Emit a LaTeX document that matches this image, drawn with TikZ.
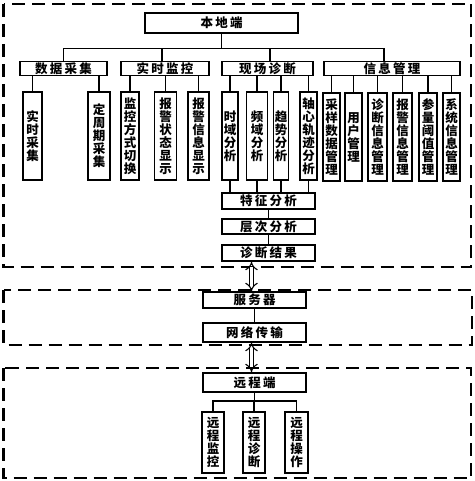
\documentclass[tikz,border=0pt]{standalone}
\usepackage{fontspec}
\usepackage{tikz}
\usetikzlibrary{arrows.meta, positioning}
\setmainfont{Noto Sans CJK SC}
\newfontfamily\hfont{Noto Sans CJK SC}[LetterSpace=18]
\newfontfamily\vfont{Noto Sans CJK SC}

\tikzset{
  box/.style={draw, line width=1.6pt, inner sep=0pt, font=\hfont\bfseries\fontsize{12.5}{14}\selectfont},
  vbox/.style={box, align=center, minimum height=88pt, font=\vfont\bfseries\fontsize{12.5}{13}\selectfont},
  rbox/.style={vbox, minimum height=61pt},
  frame/.style={line width=2.4pt, dash pattern=on 13pt off 7pt},
  link/.style={line width=1.4pt},
  dblarrow/.style={line width=1.1pt, double distance=3.2pt, {Implies}-{Implies}}
}

\begin{document}
\begin{tikzpicture}[x=1pt, y=-1pt]
    \useasboundingbox (0,0) rectangle (474,481);
    % dashed areas
    \draw[frame] (3.5,4) rectangle (471,267);
    \draw[frame] (3.5,290) rectangle (472,345);
    \draw[frame] (3.5,368) rectangle (471,478);

    % local side
    \node[box, minimum width=153pt, minimum height=20pt] (local) at (221.5,23) {本地端};
    \node[box, minimum width=87pt, minimum height=14pt] (acq) at (63.5,68.5) {数据采集};
    \node[box, minimum width=88pt, minimum height=14pt] (mon) at (165,68.5) {实时监控};
    \node[box, minimum width=91pt, minimum height=14pt] (diag) at (267.5,68.5) {现场诊断};
    \node[box, minimum width=136pt, minimum height=14pt] (info) at (392,68.5) {信息管理};

    \node[vbox, minimum width=19pt] (a1) at (32.5,136) {实\\时\\采\\集};
    \node[vbox, minimum width=22pt] (a2) at (99,136) {定\\周\\期\\采\\集};
    \node[vbox, minimum width=18pt] (m1) at (130,136) {监\\控\\方\\式\\切\\换};
    \node[vbox, minimum width=22pt] (m2) at (165.5,136) {报\\警\\状\\态\\显\\示};
    \node[vbox, minimum width=21pt] (m3) at (198.5,136) {报\\警\\信\\息\\显\\示};
    \node[vbox, minimum width=16pt] (d1) at (230,136) {时\\域\\分\\析};
    \node[vbox, minimum width=21pt] (d2) at (257,136) {频\\域\\分\\析};
    \node[vbox, minimum width=15pt] (d3) at (281,136) {趋\\势\\分\\析};
    \node[vbox, minimum width=17pt] (d4) at (308.5,136) {轴\\心\\轨\\迹\\分\\析};
    \node[vbox, minimum width=17pt] (i1) at (331.5,137) {采\\样\\数\\据\\管\\理};
    \node[vbox, minimum width=17pt] (i2) at (353.5,137) {用\\户\\管\\理};
    \node[vbox, minimum width=19pt] (i3) at (377.5,137) {诊\\断\\信\\息\\管\\理};
    \node[vbox, minimum width=19pt] (i4) at (402.5,137) {报\\警\\信\\息\\管\\理};
    \node[vbox, minimum width=18pt] (i5) at (428,137) {参\\量\\阈\\值\\管\\理};
    \node[vbox, minimum width=17pt] (i6) at (451.5,137) {系\\统\\信\\息\\管\\理};

    \node[box, minimum width=93pt, minimum height=16pt] (feat) at (268.5,201) {特征分析};
    \node[box, minimum width=93pt, minimum height=15pt] (level) at (268.5,226.5) {层次分析};
    \node[box, minimum width=93pt, minimum height=16pt] (result) at (268.5,253) {诊断结果};

    % server side
    \node[box, minimum width=103pt, minimum height=16pt] (server) at (254.5,300) {服务器};
    \node[box, minimum width=103pt, minimum height=19pt] (net) at (254.5,332.5) {网络传输};

    % remote side
    \node[box, minimum width=103pt, minimum height=19pt] (remote) at (254.5,382.5) {远程端};
    \node[rbox, minimum width=22pt] (r1) at (213,442.5) {远\\程\\监\\控};
    \node[rbox, minimum width=22pt] (r2) at (254,442.5) {远\\程\\诊\\断};
    \node[rbox, minimum width=23pt] (r3) at (296.5,442.5) {远\\程\\操\\作};

    % tree links
    \draw[link] (local.south) -- ++(0,15) -| (acq.north);
    \draw[link] (local.south) -- ++(0,15) -| ([xshift=-3pt]mon.north);
    \draw[link] (local.south) -- ++(0,15) -| ([xshift=2.5pt]diag.north);
    \draw[link] (local.south) -- ++(0,15) -| ([xshift=-8pt]info.north);
    \foreach \c/\p in {a1/acq, a2/acq, m1/mon, m2/mon, m3/mon, d1/diag, d2/diag, d3/diag, d4/diag,
                       i1/info, i2/info, i3/info, i4/info, i5/info, i6/info}
        \draw[link] (\c.north) -- (\c.north |- \p.south);
    \foreach \c in {d1, d2, d3, d4}
        \draw[link] (\c.south) -- (\c.south |- feat.north);
    \draw[link] (feat) -- (level);
    \draw[link] (level) -- (result);
    \draw[link] (server) -- (net);
    \foreach \c in {r1, r2, r3}
        \draw[link] (remote.south) -- ++(0,8) -| (\c.north);

    % data exchange
    \draw[dblarrow] ([xshift=-3pt]server.north) -- ([xshift=-3pt]server.north |- result.south);
    \draw[dblarrow] ([xshift=-3pt]net.south) -- ([xshift=-3pt]net.south |- remote.north);
\end{tikzpicture}
\end{document}
